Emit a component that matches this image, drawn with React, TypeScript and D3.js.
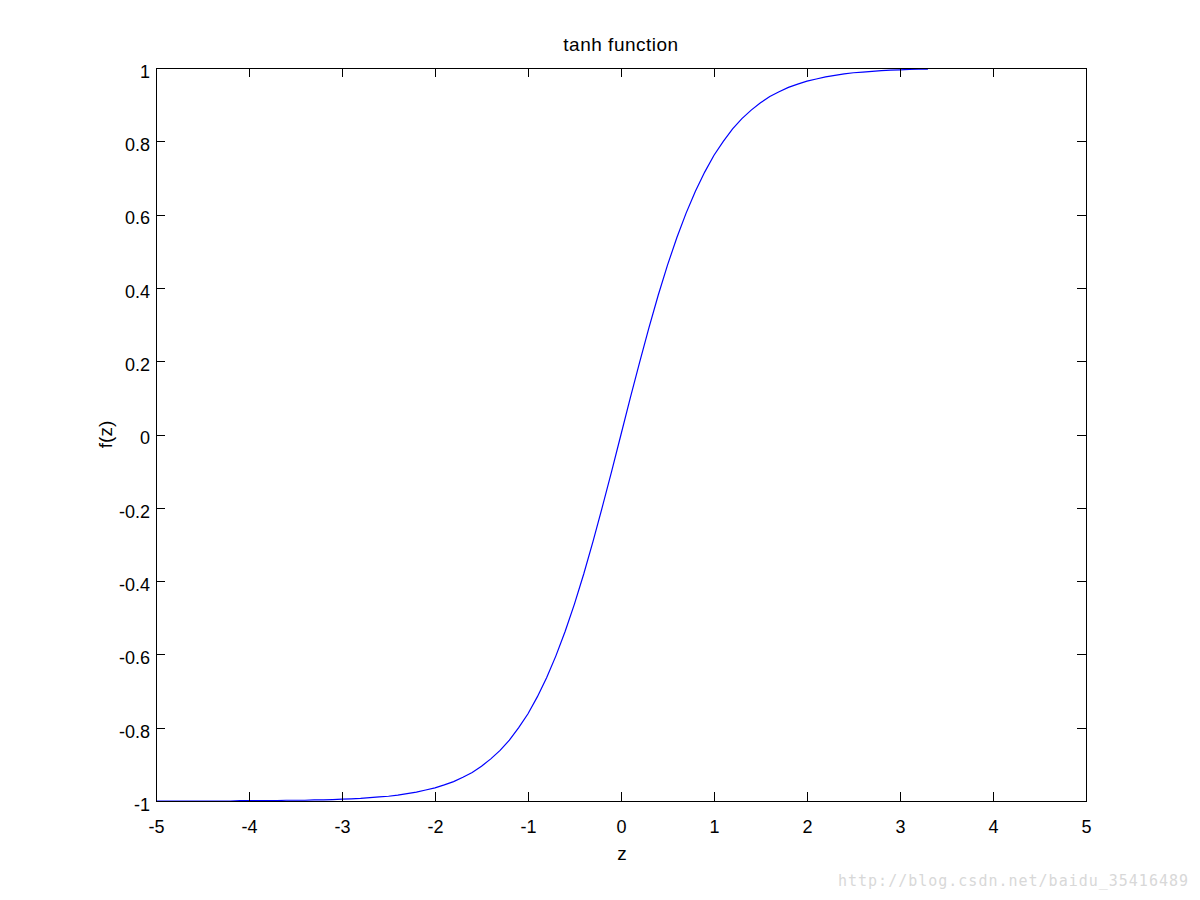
import * as d3 from "d3";
import { useEffect, useRef } from "react";

// z samples, step 0.1, curve stops near 3.3
const zValues = [
  -5.0, -4.9, -4.8, -4.7, -4.6, -4.5, -4.4, -4.3, -4.2, -4.1,
  -4.0, -3.9, -3.8, -3.7, -3.6, -3.5, -3.4, -3.3, -3.2, -3.1,
  -3.0, -2.9, -2.8, -2.7, -2.6, -2.5, -2.4, -2.3, -2.2, -2.1,
  -2.0, -1.9, -1.8, -1.7, -1.6, -1.5, -1.4, -1.3, -1.2, -1.1,
  -1.0, -0.9, -0.8, -0.7, -0.6, -0.5, -0.4, -0.3, -0.2, -0.1,
  0.0, 0.1, 0.2, 0.3, 0.4, 0.5, 0.6, 0.7, 0.8, 0.9,
  1.0, 1.1, 1.2, 1.3, 1.4, 1.5, 1.6, 1.7, 1.8, 1.9,
  2.0, 2.1, 2.2, 2.3, 2.4, 2.5, 2.6, 2.7, 2.8, 2.9,
  3.0, 3.1, 3.2, 3.3,
];

// f(z)
const fValues = [
  -1.0, -1.0, -1.0, -1.0, -1.0, -1.0, -1.0, -1.0, -1.0, -0.999,
  -0.999, -0.999, -0.999, -0.999, -0.998, -0.998, -0.998, -0.997, -0.997, -0.996,
  -0.995, -0.994, -0.993, -0.991, -0.989, -0.987, -0.984, -0.980, -0.976, -0.970,
  -0.964, -0.956, -0.947, -0.935, -0.922, -0.905, -0.885, -0.862, -0.834, -0.800,
  -0.762, -0.716, -0.664, -0.604, -0.537, -0.462, -0.380, -0.291, -0.197, -0.100,
  0.0, 0.100, 0.197, 0.291, 0.380, 0.462, 0.537, 0.604, 0.664, 0.716,
  0.762, 0.800, 0.834, 0.862, 0.885, 0.905, 0.922, 0.935, 0.947, 0.956,
  0.964, 0.970, 0.976, 0.980, 0.984, 0.987, 0.989, 0.991, 0.993, 0.994,
  0.995, 0.996, 0.997, 0.997,
];

const xTicks = [-5, -4, -3, -2, -1, 0, 1, 2, 3, 4, 5];
const yTicks = [-1, -0.8, -0.6, -0.4, -0.2, 0, 0.2, 0.4, 0.6, 0.8, 1];

// подпись засечки с обычным дефисом вместо U+2212
const fmt = (d) => String(+(+d).toFixed(1));

const App = () => {
  const chartRef = useRef(null);

  const width = 1200;
  const height = 900;
  const margin = { top: 68, right: 114, bottom: 99, left: 156 };
  const boundsWidth = width - margin.left - margin.right;
  const boundsHeight = height - margin.top - margin.bottom;

  useEffect(() => {
    const svg = d3.select(chartRef.current);
    svg.selectAll("*").remove();

    const font = "'Liberation Sans', Arial, Helvetica, sans-serif";

    const scaleX = d3.scaleLinear().domain([-5, 5]).range([0, boundsWidth]);
    const scaleY = d3.scaleLinear().domain([-1, 1]).range([boundsHeight, 0]);

    svg.append("rect")
      .attr("width", width)
      .attr("height", height)
      .style("fill", "#fff");

    const g = svg.append("g")
      .attr("transform", `translate(${margin.left}, ${margin.top})`);

    // кривая
    const pts = zValues.map((z, i) => [z, fValues[i]]);
    g.append("path")
      .datum(pts)
      .attr("d", d3.line().x(d => scaleX(d[0])).y(d => scaleY(d[1])))
      .style("fill", "none")
      .style("stroke", "#0000ff")
      .style("stroke-width", 1.2);

    // рамка и засечки (внутрь, на всех четырех сторонах)
    const tickLen = 9;
    const axisG = g.append("g").attr("shape-rendering", "crispEdges");

    axisG.append("g")
      .attr("transform", `translate(0, ${boundsHeight})`)
      .call(d3.axisBottom(scaleX).tickValues(xTicks).tickSize(-tickLen).tickSizeOuter(0).tickPadding(19).tickFormat(fmt));
    axisG.append("g")
      .call(d3.axisTop(scaleX).tickValues(xTicks).tickSize(-tickLen).tickSizeOuter(0).tickFormat(() => ""));
    const left = axisG.append("g")
      .call(d3.axisLeft(scaleY).tickValues(yTicks).tickSize(-tickLen).tickSizeOuter(0).tickPadding(6).tickFormat(fmt));
    left.selectAll("text").attr("dy", "0.52em");
    axisG.append("g")
      .attr("transform", `translate(${boundsWidth}, 0)`)
      .call(d3.axisRight(scaleY).tickValues(yTicks).tickSize(-tickLen).tickSizeOuter(0).tickFormat(() => ""));

    axisG.selectAll(".domain").remove();
    axisG.selectAll(".tick line").style("stroke", "#000").style("stroke-width", 1);
    axisG.selectAll("text")
      .style("font-family", font)
      .style("font-size", "18px")
      .style("fill", "#000");

    g.append("rect")
      .attr("width", boundsWidth)
      .attr("height", boundsHeight)
      .attr("shape-rendering", "crispEdges")
      .style("fill", "none")
      .style("stroke", "#000")
      .style("stroke-width", 1);

    // подписи
    svg.append("text")
      .attr("x", margin.left + boundsWidth / 2)
      .attr("y", 51)
      .attr("text-anchor", "middle")
      .style("font-family", font)
      .style("font-size", "19px")
      .style("letter-spacing", "0.5px")
      .text("tanh function");

    svg.append("text")
      .attr("x", margin.left + boundsWidth / 2 + 1)
      .attr("y", 860)
      .attr("text-anchor", "middle")
      .style("font-family", font)
      .style("font-size", "19px")
      .text("z");

    svg.append("text")
      .attr("transform", `translate(112, ${margin.top + boundsHeight / 2}) rotate(-90)`)
      .attr("text-anchor", "middle")
      .style("font-family", font)
      .style("font-size", "19px")
      .text("f(z)");

    // водяной знак
    svg.append("text")
      .attr("x", 838)
      .attr("y", 886)
      .attr("textLength", 350)
      .style("font-family", "'DejaVu Sans Mono', monospace")
      .style("font-size", "15px")
      .style("fill", "#d8d8d8")
      .text("http://blog.csdn.net/baidu_35416489");
  }, []);

  return (
    <svg ref={chartRef} width={width} height={height}
      style={{ position: "absolute", left: 0, top: 0, display: "block" }} />
  );
};

export default App;
